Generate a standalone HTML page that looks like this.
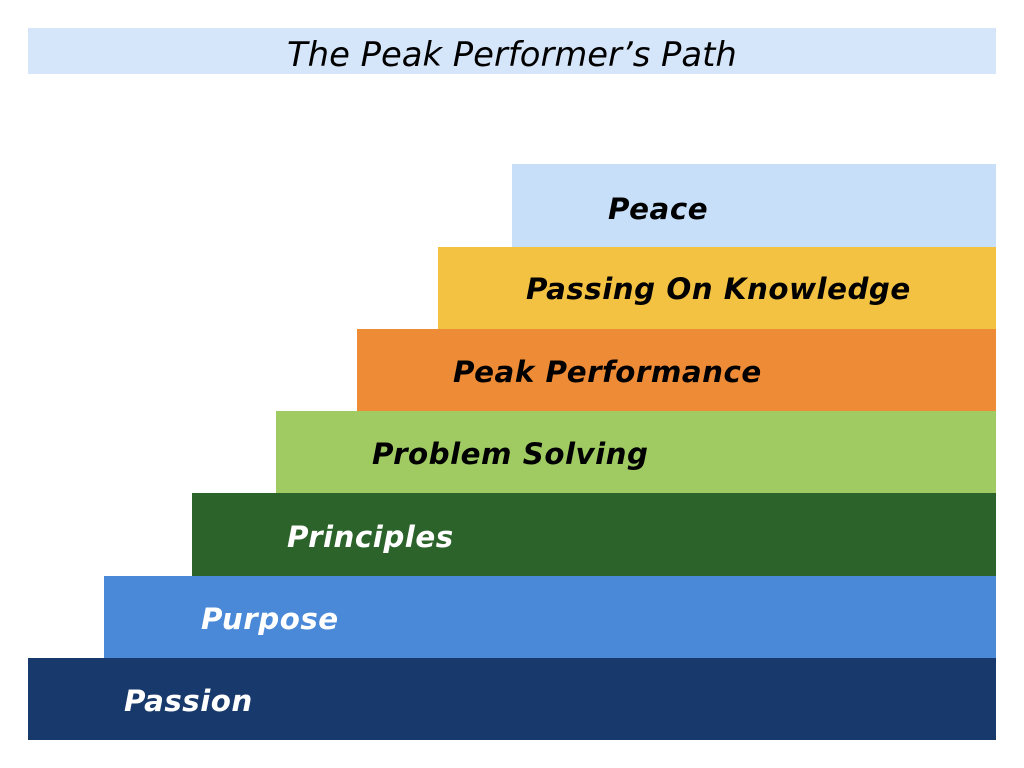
<!DOCTYPE html>
<html>
<head>
<meta charset="utf-8">
<style>
html,body{margin:0;padding:0;background:#ffffff;}
body{width:1024px;height:768px;position:relative;overflow:hidden;}
.bar{position:absolute;}
.t{position:absolute;font-family:"DejaVu Sans","Liberation Sans",sans-serif;font-weight:bold;font-style:italic;font-size:29.3px;line-height:1;white-space:nowrap;letter-spacing:0.5px;}
.title{position:absolute;left:287px;top:37.5px;font-family:"DejaVu Sans","Liberation Sans",sans-serif;font-style:italic;font-size:33.8px;line-height:1;white-space:nowrap;color:#000;}
</style>
</head>
<body>
<div class="bar" style="left:28px;top:28px;width:968px;height:46px;background:#d6e6fa;"></div>
<div class="title">The Peak Performer’s Path</div>

<div class="bar" style="left:512px;top:164px;width:484px;height:83px;background:#c7dff9;"></div>
<div class="bar" style="left:438px;top:247px;width:558px;height:82px;background:#f4c242;"></div>
<div class="bar" style="left:357px;top:329px;width:639px;height:82px;background:#ee8b36;"></div>
<div class="bar" style="left:276px;top:411px;width:720px;height:82px;background:#a0cb62;"></div>
<div class="bar" style="left:192px;top:493px;width:804px;height:83px;background:#2b632b;"></div>
<div class="bar" style="left:104px;top:576px;width:892px;height:82px;background:#4a88d8;"></div>
<div class="bar" style="left:28px;top:658px;width:968px;height:82px;background:#17396b;"></div>

<div class="t" style="left:608px;top:195.2px;color:#000;">Peace</div>
<div class="t" style="left:526px;top:275.2px;color:#000;">Passing On Knowledge</div>
<div class="t" style="left:453px;top:357.9px;color:#000;">Peak Performance</div>
<div class="t" style="left:372px;top:440.2px;color:#000;">Problem Solving</div>
<div class="t" style="left:287px;top:522.9px;color:#fff;">Principles</div>
<div class="t" style="left:201px;top:605.2px;color:#fff;">Purpose</div>
<div class="t" style="left:124px;top:687.2px;color:#fff;">Passion</div>
</body>
</html>
